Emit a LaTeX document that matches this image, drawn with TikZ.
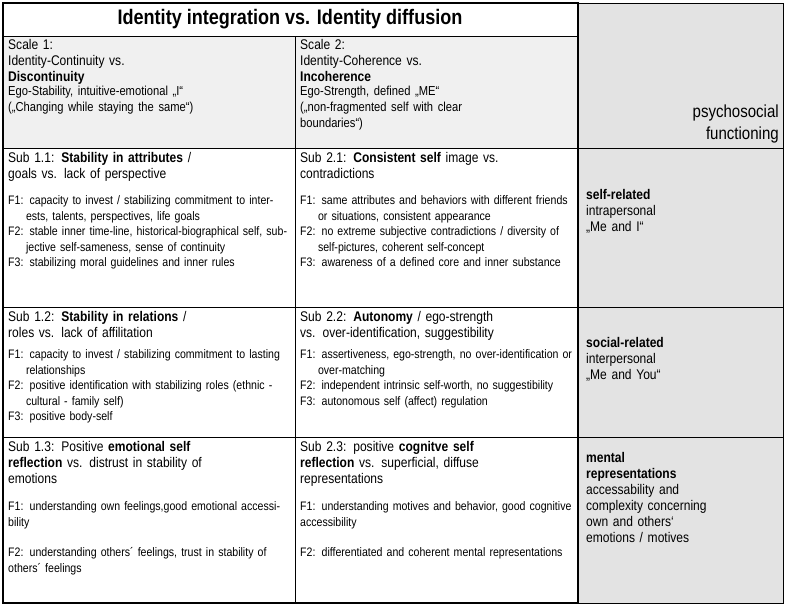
\documentclass[tikz,border=0pt]{standalone}
\usepackage{fontspec}
\setmainfont{Liberation Sans}[FakeStretch=0.86]
\newcommand{\fitm}[2]{\par\hangindent=1.45em\hangafter=1 #1 #2}
\begin{document}
\begin{tikzpicture}[x=1pt,y=-1pt,
  cell/.style={anchor=north west,inner sep=0pt,align=left,font=\fontsize{14}{16}\selectfont},
  fitem/.style={anchor=north west,inner sep=0pt,align=left,font=\fontsize{12.3}{15.5}\selectfont},
  thin/.style={line width=0.8pt},
  thick/.style={line width=2pt}]
\useasboundingbox (0,0) rectangle (785,606);
% fills
\fill[white] (0,0) rectangle (785,606);
\fill[gray!12] (3,36) rectangle (578,148);
\fill[gray!22] (578,3) rectangle (783,603);
% thin lines
\draw[thin] (295,36) -- (295,603);
\draw[thin] (3,148) -- (783,148);
\draw[thin] (3,307) -- (783,307);
\draw[thin] (3,437) -- (783,437);
\draw[thin] (3,36) -- (578,36);
\draw[thin] (578,3) -- (783,3) -- (783,603) -- (578,603);
\draw[thick] (3,3) rectangle (578,603);
% title
\node (title) at (290,19) {\fontsize{21}{24}\selectfont\bfseries Identity integration vs. Identity diffusion};
% header
\node[cell,text width=285] (h1) at (8,39) {Scale 1:\\Identity-Continuity vs.\\\textbf{Discontinuity}\\[-1pt]{\fontsize{13}{15.5}\selectfont Ego-Stability, intuitive-emotional „I“\\(„Changing while staying the same“)}};
\node[cell,text width=280] (h2) at (300,39) {Scale 2:\\Identity-Coherence vs.\\\textbf{Incoherence}\\[-1pt]{\fontsize{13}{15.5}\selectfont Ego-Strength, defined „ME“\\(„non-fragmented self with clear\\boundaries“)}};
\node[anchor=south east,align=right,inner sep=0pt,font=\fontsize{17.5}{22}\selectfont] (psy) at (779,143) {psychosocial\\functioning};
% row 1
\node[cell,text width=285] (s11) at (8,152) {Sub 1.1: \textbf{Stability in attributes} /\\goals vs. lack of perspective};
\node[fitem,text width=282] (f11) at (8,189) {\fitm{F1:}{capacity to invest / stabilizing commitment to interests, talents, perspectives, life goals}\fitm{F2:}{stable inner time-line, historical-biographical self, subjective self-sameness, sense of continuity}\fitm{F3:}{stabilizing moral guidelines and inner rules}};
\node[cell,text width=280] (s21) at (300,152) {Sub 2.1: \textbf{Consistent self} image vs.\\contradictions};
\node[fitem,text width=275] (f21) at (300,189) {\fitm{F1:}{same attributes and behaviors with different friends or situations, consistent appearance}\fitm{F2:}{no extreme subjective contradictions / diversity of self-pictures, coherent self-concept}\fitm{F3:}{awareness of a defined core and inner substance}};
\node[cell,text width=195] (r1) at (586,189) {\textbf{self-related}\\intrapersonal\\„Me and I“};
% row 2
\node[cell,text width=285] (s12) at (8,311) {Sub 1.2: \textbf{Stability in relations} /\\roles vs. lack of affilitation};
\node[fitem,text width=282] (f12) at (8,343) {\fitm{F1:}{capacity to invest / stabilizing commitment to lasting relationships}\fitm{F2:}{positive identification with stabilizing roles (ethnic - cultural - family self)}\fitm{F3:}{positive body-self}};
\node[cell,text width=280] (s22) at (300,311) {Sub 2.2: \textbf{Autonomy} / ego-strength\\vs. over-identification, suggestibility};
\node[fitem,text width=275] (f22) at (300,343) {\fitm{F1:}{assertiveness, ego-strength, no over-identification or over-matching}\fitm{F2:}{independent intrinsic self-worth, no suggestibility}\fitm{F3:}{autonomous self (affect) regulation}};
\node[cell,text width=195] (r2) at (586,337) {\textbf{social-related}\\interpersonal\\„Me and You“};
% row 3
\node[cell,text width=285] (s13) at (8,441) {Sub 1.3: Positive \textbf{emotional self\\reflection} vs. distrust in stability of\\emotions};
\node[fitem,text width=282] (f13a) at (8,495) {\fitm{F1:}{understanding own feelings,good emotional accessibility}};
\node[fitem,text width=282] (f13b) at (8,541) {\fitm{F2:}{understanding others´ feelings, trust in stability of others´ feelings}};
\node[cell,text width=280] (s23) at (300,441) {Sub 2.3: positive \textbf{cognitve self\\reflection} vs. superficial, diffuse\\representations};
\node[fitem,text width=275] (f23a) at (300,495) {\fitm{F1:}{understanding motives and behavior, good cognitive accessibility}};
\node[fitem,text width=275] (f23b) at (300,541) {\fitm{F2:}{differentiated and coherent mental representations}};
\node[cell,text width=195] (r3) at (586,452) {\textbf{mental\\representations}\\accessability and\\complexity concerning\\own and others‘\\emotions / motives};
\end{tikzpicture}
\end{document}
